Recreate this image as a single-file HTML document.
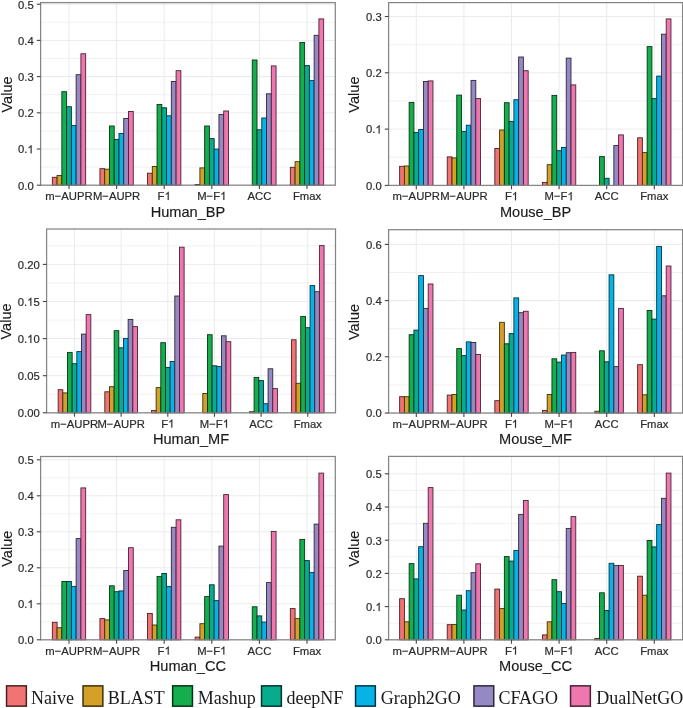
<!DOCTYPE html>
<html><head><meta charset="utf-8">
<style>
html,body{margin:0;padding:0;background:#fff;}
body{width:683px;height:708px;overflow:hidden;}
svg{display:block;}
svg{will-change:transform;}
.tk{font-family:"Liberation Sans", sans-serif;font-size:11.3px;fill:#2b2b2b;stroke:#2b2b2b;stroke-width:0.2px;}
.ttl{font-family:"Liberation Sans", sans-serif;font-size:14.6px;fill:#1a1a1a;stroke:#1a1a1a;stroke-width:0.15px;}
.leg{font-family:"Liberation Serif", serif;font-size:18px;fill:#1a1a1a;}
</style></head>
<body>
<svg width="683" height="708" viewBox="0 0 683 708">
<rect x="0" y="0" width="683" height="708" fill="#fff"/>
<line x1="40.6" y1="167.1" x2="335.3" y2="167.1" stroke="#EEEEEE" stroke-width="0.85"/>
<line x1="40.6" y1="130.9" x2="335.3" y2="130.9" stroke="#EEEEEE" stroke-width="0.85"/>
<line x1="40.6" y1="94.7" x2="335.3" y2="94.7" stroke="#EEEEEE" stroke-width="0.85"/>
<line x1="40.6" y1="58.5" x2="335.3" y2="58.5" stroke="#EEEEEE" stroke-width="0.85"/>
<line x1="40.6" y1="22.3" x2="335.3" y2="22.3" stroke="#EEEEEE" stroke-width="0.85"/>
<line x1="40.6" y1="185.2" x2="335.3" y2="185.2" stroke="#EBEBEB" stroke-width="1"/>
<line x1="40.6" y1="149" x2="335.3" y2="149" stroke="#EBEBEB" stroke-width="1"/>
<line x1="40.6" y1="112.8" x2="335.3" y2="112.8" stroke="#EBEBEB" stroke-width="1"/>
<line x1="40.6" y1="76.6" x2="335.3" y2="76.6" stroke="#EBEBEB" stroke-width="1"/>
<line x1="40.6" y1="40.4" x2="335.3" y2="40.4" stroke="#EBEBEB" stroke-width="1"/>
<line x1="40.6" y1="4.2" x2="335.3" y2="4.2" stroke="#EBEBEB" stroke-width="1"/>
<line x1="69" y1="2.6" x2="69" y2="185.2" stroke="#EBEBEB" stroke-width="1"/>
<line x1="116.6" y1="2.6" x2="116.6" y2="185.2" stroke="#EBEBEB" stroke-width="1"/>
<line x1="164.2" y1="2.6" x2="164.2" y2="185.2" stroke="#EBEBEB" stroke-width="1"/>
<line x1="211.8" y1="2.6" x2="211.8" y2="185.2" stroke="#EBEBEB" stroke-width="1"/>
<line x1="259.4" y1="2.6" x2="259.4" y2="185.2" stroke="#EBEBEB" stroke-width="1"/>
<line x1="307" y1="2.6" x2="307" y2="185.2" stroke="#EBEBEB" stroke-width="1"/>
<rect x="52.34" y="177.3" width="4.76" height="7.9" fill="#F17373" stroke="#482222" stroke-width="0.9"/>
<rect x="57.1" y="175.4" width="4.76" height="9.8" fill="#D5A02A" stroke="#3F300C" stroke-width="0.9"/>
<rect x="61.86" y="91.7" width="4.76" height="93.5" fill="#16AE4D" stroke="#063417" stroke-width="0.9"/>
<rect x="66.62" y="106.7" width="4.76" height="78.5" fill="#09AB8E" stroke="#02332A" stroke-width="0.9"/>
<rect x="71.38" y="125.5" width="4.76" height="59.7" fill="#07B3E6" stroke="#023545" stroke-width="0.9"/>
<rect x="76.14" y="74.7" width="4.76" height="110.5" fill="#9688C2" stroke="#2D283A" stroke-width="0.9"/>
<rect x="80.9" y="53.8" width="4.76" height="131.4" fill="#EF77B0" stroke="#472334" stroke-width="0.9"/>
<rect x="99.94" y="168.7" width="4.76" height="16.5" fill="#F17373" stroke="#482222" stroke-width="0.9"/>
<rect x="104.7" y="169.2" width="4.76" height="16" fill="#D5A02A" stroke="#3F300C" stroke-width="0.9"/>
<rect x="109.46" y="126" width="4.76" height="59.2" fill="#16AE4D" stroke="#063417" stroke-width="0.9"/>
<rect x="114.22" y="139.4" width="4.76" height="45.8" fill="#09AB8E" stroke="#02332A" stroke-width="0.9"/>
<rect x="118.98" y="133.5" width="4.76" height="51.7" fill="#07B3E6" stroke="#023545" stroke-width="0.9"/>
<rect x="123.74" y="118.5" width="4.76" height="66.7" fill="#9688C2" stroke="#2D283A" stroke-width="0.9"/>
<rect x="128.5" y="111.5" width="4.76" height="73.7" fill="#EF77B0" stroke="#472334" stroke-width="0.9"/>
<rect x="147.54" y="173.2" width="4.76" height="12" fill="#F17373" stroke="#482222" stroke-width="0.9"/>
<rect x="152.3" y="166.5" width="4.76" height="18.7" fill="#D5A02A" stroke="#3F300C" stroke-width="0.9"/>
<rect x="157.06" y="104.5" width="4.76" height="80.7" fill="#16AE4D" stroke="#063417" stroke-width="0.9"/>
<rect x="161.82" y="107.8" width="4.76" height="77.4" fill="#09AB8E" stroke="#02332A" stroke-width="0.9"/>
<rect x="166.58" y="115.8" width="4.76" height="69.4" fill="#07B3E6" stroke="#023545" stroke-width="0.9"/>
<rect x="171.34" y="81.5" width="4.76" height="103.7" fill="#9688C2" stroke="#2D283A" stroke-width="0.9"/>
<rect x="176.1" y="70.7" width="4.76" height="114.5" fill="#EF77B0" stroke="#472334" stroke-width="0.9"/>
<rect x="195.14" y="184.5" width="4.76" height="0.7" fill="#F17373" stroke="#482222" stroke-width="0.9"/>
<rect x="199.9" y="167.9" width="4.76" height="17.3" fill="#D5A02A" stroke="#3F300C" stroke-width="0.9"/>
<rect x="204.66" y="126" width="4.76" height="59.2" fill="#16AE4D" stroke="#063417" stroke-width="0.9"/>
<rect x="209.42" y="138.6" width="4.76" height="46.6" fill="#09AB8E" stroke="#02332A" stroke-width="0.9"/>
<rect x="214.18" y="149.1" width="4.76" height="36.1" fill="#07B3E6" stroke="#023545" stroke-width="0.9"/>
<rect x="218.94" y="114.5" width="4.76" height="70.7" fill="#9688C2" stroke="#2D283A" stroke-width="0.9"/>
<rect x="223.7" y="111" width="4.76" height="74.2" fill="#EF77B0" stroke="#472334" stroke-width="0.9"/>
<rect x="252.26" y="60" width="4.76" height="125.2" fill="#16AE4D" stroke="#063417" stroke-width="0.9"/>
<rect x="257.02" y="129.8" width="4.76" height="55.4" fill="#09AB8E" stroke="#02332A" stroke-width="0.9"/>
<rect x="261.78" y="118" width="4.76" height="67.2" fill="#07B3E6" stroke="#023545" stroke-width="0.9"/>
<rect x="266.54" y="93.8" width="4.76" height="91.4" fill="#9688C2" stroke="#2D283A" stroke-width="0.9"/>
<rect x="271.3" y="65.9" width="4.76" height="119.3" fill="#EF77B0" stroke="#472334" stroke-width="0.9"/>
<rect x="290.34" y="167.3" width="4.76" height="17.9" fill="#F17373" stroke="#482222" stroke-width="0.9"/>
<rect x="295.1" y="161.7" width="4.76" height="23.5" fill="#D5A02A" stroke="#3F300C" stroke-width="0.9"/>
<rect x="299.86" y="42.5" width="4.76" height="142.7" fill="#16AE4D" stroke="#063417" stroke-width="0.9"/>
<rect x="304.62" y="65.6" width="4.76" height="119.6" fill="#09AB8E" stroke="#02332A" stroke-width="0.9"/>
<rect x="309.38" y="80.6" width="4.76" height="104.6" fill="#07B3E6" stroke="#023545" stroke-width="0.9"/>
<rect x="314.14" y="35.3" width="4.76" height="149.9" fill="#9688C2" stroke="#2D283A" stroke-width="0.9"/>
<rect x="318.9" y="18.9" width="4.76" height="166.3" fill="#EF77B0" stroke="#472334" stroke-width="0.9"/>
<rect x="40.6" y="2.6" width="294.7" height="182.6" fill="none" stroke="#858585" stroke-width="1.25"/>
<line x1="36.8" y1="185.2" x2="40.6" y2="185.2" stroke="#444" stroke-width="1.1"/>
<g transform="translate(33.7,189.5) scale(1,1.04)"><text x="-15.71" y="0" class="tk">0.0</text></g>
<line x1="36.8" y1="149" x2="40.6" y2="149" stroke="#444" stroke-width="1.1"/>
<g transform="translate(33.7,153.3) scale(1,1.04)"><text x="-15.71" y="0" class="tk">0.<tspan style="fill:none;stroke:none">1</tspan></text></g>
<path transform="translate(33.7,153.3) translate(-6.28,0) scale(0.00552,-0.00552)" d="M763 0H583V1147C540 1106 483 1065 413 1024C343 983 280 952 224 931V1105C325 1152 413 1210 488 1278C563 1346 616 1412 647 1476H763Z" fill="#2b2b2b" stroke="#2b2b2b" stroke-width="36.2"/>
<line x1="36.8" y1="112.8" x2="40.6" y2="112.8" stroke="#444" stroke-width="1.1"/>
<g transform="translate(33.7,117.1) scale(1,1.04)"><text x="-15.71" y="0" class="tk">0.2</text></g>
<line x1="36.8" y1="76.6" x2="40.6" y2="76.6" stroke="#444" stroke-width="1.1"/>
<g transform="translate(33.7,80.9) scale(1,1.04)"><text x="-15.71" y="0" class="tk">0.3</text></g>
<line x1="36.8" y1="40.4" x2="40.6" y2="40.4" stroke="#444" stroke-width="1.1"/>
<g transform="translate(33.7,44.7) scale(1,1.04)"><text x="-15.71" y="0" class="tk">0.4</text></g>
<line x1="36.8" y1="4.2" x2="40.6" y2="4.2" stroke="#444" stroke-width="1.1"/>
<g transform="translate(33.7,8.5) scale(1,1.04)"><text x="-15.71" y="0" class="tk">0.5</text></g>
<line x1="69" y1="185.2" x2="69" y2="189.1" stroke="#444" stroke-width="1.1"/>
<g transform="translate(69,200) scale(1,1.04)"><text x="-23.7" y="0" class="tk">m−AUPR</text></g>
<line x1="116.6" y1="185.2" x2="116.6" y2="189.1" stroke="#444" stroke-width="1.1"/>
<g transform="translate(116.6,200) scale(1,1.04)"><text x="-23.7" y="0" class="tk">M−AUPR</text></g>
<line x1="164.2" y1="185.2" x2="164.2" y2="189.1" stroke="#444" stroke-width="1.1"/>
<g transform="translate(164.2,200) scale(1,1.04)"><text x="-6.59" y="0" class="tk">F<tspan style="fill:none;stroke:none">1</tspan></text></g>
<path transform="translate(164.2,200) translate(0.31,0) scale(0.00552,-0.00552)" d="M763 0H583V1147C540 1106 483 1065 413 1024C343 983 280 952 224 931V1105C325 1152 413 1210 488 1278C563 1346 616 1412 647 1476H763Z" fill="#2b2b2b" stroke="#2b2b2b" stroke-width="36.2"/>
<line x1="211.8" y1="185.2" x2="211.8" y2="189.1" stroke="#444" stroke-width="1.1"/>
<g transform="translate(211.8,200) scale(1,1.04)"><text x="-14.6" y="0" class="tk">M−F<tspan style="fill:none;stroke:none">1</tspan></text></g>
<path transform="translate(211.8,200) translate(8.31,0) scale(0.00552,-0.00552)" d="M763 0H583V1147C540 1106 483 1065 413 1024C343 983 280 952 224 931V1105C325 1152 413 1210 488 1278C563 1346 616 1412 647 1476H763Z" fill="#2b2b2b" stroke="#2b2b2b" stroke-width="36.2"/>
<line x1="259.4" y1="185.2" x2="259.4" y2="189.1" stroke="#444" stroke-width="1.1"/>
<g transform="translate(259.4,200) scale(1,1.04)"><text x="-11.93" y="0" class="tk">ACC</text></g>
<line x1="307" y1="185.2" x2="307" y2="189.1" stroke="#444" stroke-width="1.1"/>
<g transform="translate(307,200) scale(1,1.04)"><text x="-14.12" y="0" class="tk">Fmax</text></g>
<g transform="translate(187.95,216.6) scale(1,1.04)"><text x="-37.33" y="0" class="ttl">Human_BP</text></g>
<g transform="translate(11.8,93.9) rotate(-90) scale(1,1.04)"><text x="-18.67" y="0" class="ttl">Value</text></g>
<line x1="388.6" y1="157.25" x2="682.6" y2="157.25" stroke="#EEEEEE" stroke-width="0.85"/>
<line x1="388.6" y1="100.95" x2="682.6" y2="100.95" stroke="#EEEEEE" stroke-width="0.85"/>
<line x1="388.6" y1="44.65" x2="682.6" y2="44.65" stroke="#EEEEEE" stroke-width="0.85"/>
<line x1="388.6" y1="185.4" x2="682.6" y2="185.4" stroke="#EBEBEB" stroke-width="1"/>
<line x1="388.6" y1="129.1" x2="682.6" y2="129.1" stroke="#EBEBEB" stroke-width="1"/>
<line x1="388.6" y1="72.8" x2="682.6" y2="72.8" stroke="#EBEBEB" stroke-width="1"/>
<line x1="388.6" y1="16.5" x2="682.6" y2="16.5" stroke="#EBEBEB" stroke-width="1"/>
<line x1="416.3" y1="2.6" x2="416.3" y2="185.4" stroke="#EBEBEB" stroke-width="1"/>
<line x1="463.9" y1="2.6" x2="463.9" y2="185.4" stroke="#EBEBEB" stroke-width="1"/>
<line x1="511.5" y1="2.6" x2="511.5" y2="185.4" stroke="#EBEBEB" stroke-width="1"/>
<line x1="559.1" y1="2.6" x2="559.1" y2="185.4" stroke="#EBEBEB" stroke-width="1"/>
<line x1="606.7" y1="2.6" x2="606.7" y2="185.4" stroke="#EBEBEB" stroke-width="1"/>
<line x1="654.3" y1="2.6" x2="654.3" y2="185.4" stroke="#EBEBEB" stroke-width="1"/>
<rect x="399.64" y="166.3" width="4.76" height="19.1" fill="#F17373" stroke="#482222" stroke-width="0.9"/>
<rect x="404.4" y="166" width="4.76" height="19.4" fill="#D5A02A" stroke="#3F300C" stroke-width="0.9"/>
<rect x="409.16" y="102.4" width="4.76" height="83" fill="#16AE4D" stroke="#063417" stroke-width="0.9"/>
<rect x="413.92" y="132.4" width="4.76" height="53" fill="#09AB8E" stroke="#02332A" stroke-width="0.9"/>
<rect x="418.68" y="129.5" width="4.76" height="55.9" fill="#07B3E6" stroke="#023545" stroke-width="0.9"/>
<rect x="423.44" y="81.5" width="4.76" height="103.9" fill="#9688C2" stroke="#2D283A" stroke-width="0.9"/>
<rect x="428.2" y="80.9" width="4.76" height="104.5" fill="#EF77B0" stroke="#472334" stroke-width="0.9"/>
<rect x="447.24" y="156.9" width="4.76" height="28.5" fill="#F17373" stroke="#482222" stroke-width="0.9"/>
<rect x="452" y="157.9" width="4.76" height="27.5" fill="#D5A02A" stroke="#3F300C" stroke-width="0.9"/>
<rect x="456.76" y="95.1" width="4.76" height="90.3" fill="#16AE4D" stroke="#063417" stroke-width="0.9"/>
<rect x="461.52" y="131.4" width="4.76" height="54" fill="#09AB8E" stroke="#02332A" stroke-width="0.9"/>
<rect x="466.28" y="125.2" width="4.76" height="60.2" fill="#07B3E6" stroke="#023545" stroke-width="0.9"/>
<rect x="471.04" y="80.4" width="4.76" height="105" fill="#9688C2" stroke="#2D283A" stroke-width="0.9"/>
<rect x="475.8" y="98.6" width="4.76" height="86.8" fill="#EF77B0" stroke="#472334" stroke-width="0.9"/>
<rect x="494.84" y="148.5" width="4.76" height="36.9" fill="#F17373" stroke="#482222" stroke-width="0.9"/>
<rect x="499.6" y="130" width="4.76" height="55.4" fill="#D5A02A" stroke="#3F300C" stroke-width="0.9"/>
<rect x="504.36" y="102.7" width="4.76" height="82.7" fill="#16AE4D" stroke="#063417" stroke-width="0.9"/>
<rect x="509.12" y="121.4" width="4.76" height="64" fill="#09AB8E" stroke="#02332A" stroke-width="0.9"/>
<rect x="513.88" y="99.7" width="4.76" height="85.7" fill="#07B3E6" stroke="#023545" stroke-width="0.9"/>
<rect x="518.64" y="57" width="4.76" height="128.4" fill="#9688C2" stroke="#2D283A" stroke-width="0.9"/>
<rect x="523.4" y="70.7" width="4.76" height="114.7" fill="#EF77B0" stroke="#472334" stroke-width="0.9"/>
<rect x="542.44" y="182.4" width="4.76" height="3" fill="#F17373" stroke="#482222" stroke-width="0.9"/>
<rect x="547.2" y="164.7" width="4.76" height="20.7" fill="#D5A02A" stroke="#3F300C" stroke-width="0.9"/>
<rect x="551.96" y="95.4" width="4.76" height="90" fill="#16AE4D" stroke="#063417" stroke-width="0.9"/>
<rect x="556.72" y="150.7" width="4.76" height="34.7" fill="#09AB8E" stroke="#02332A" stroke-width="0.9"/>
<rect x="561.48" y="147.5" width="4.76" height="37.9" fill="#07B3E6" stroke="#023545" stroke-width="0.9"/>
<rect x="566.24" y="58.1" width="4.76" height="127.3" fill="#9688C2" stroke="#2D283A" stroke-width="0.9"/>
<rect x="571" y="84.9" width="4.76" height="100.5" fill="#EF77B0" stroke="#472334" stroke-width="0.9"/>
<rect x="599.56" y="156.6" width="4.76" height="28.8" fill="#16AE4D" stroke="#063417" stroke-width="0.9"/>
<rect x="604.32" y="178.3" width="4.76" height="7.1" fill="#09AB8E" stroke="#02332A" stroke-width="0.9"/>
<rect x="613.84" y="145.6" width="4.76" height="39.8" fill="#9688C2" stroke="#2D283A" stroke-width="0.9"/>
<rect x="618.6" y="134.9" width="4.76" height="50.5" fill="#EF77B0" stroke="#472334" stroke-width="0.9"/>
<rect x="637.64" y="137.8" width="4.76" height="47.6" fill="#F17373" stroke="#482222" stroke-width="0.9"/>
<rect x="642.4" y="152.6" width="4.76" height="32.8" fill="#D5A02A" stroke="#3F300C" stroke-width="0.9"/>
<rect x="647.16" y="46.6" width="4.76" height="138.8" fill="#16AE4D" stroke="#063417" stroke-width="0.9"/>
<rect x="651.92" y="98.6" width="4.76" height="86.8" fill="#09AB8E" stroke="#02332A" stroke-width="0.9"/>
<rect x="656.68" y="76.1" width="4.76" height="109.3" fill="#07B3E6" stroke="#023545" stroke-width="0.9"/>
<rect x="661.44" y="34.2" width="4.76" height="151.2" fill="#9688C2" stroke="#2D283A" stroke-width="0.9"/>
<rect x="666.2" y="18.9" width="4.76" height="166.5" fill="#EF77B0" stroke="#472334" stroke-width="0.9"/>
<rect x="388.6" y="2.6" width="294" height="182.8" fill="none" stroke="#858585" stroke-width="1.25"/>
<line x1="384.8" y1="185.4" x2="388.6" y2="185.4" stroke="#444" stroke-width="1.1"/>
<g transform="translate(381.7,189.7) scale(1,1.04)"><text x="-15.71" y="0" class="tk">0.0</text></g>
<line x1="384.8" y1="129.1" x2="388.6" y2="129.1" stroke="#444" stroke-width="1.1"/>
<g transform="translate(381.7,133.4) scale(1,1.04)"><text x="-15.71" y="0" class="tk">0.<tspan style="fill:none;stroke:none">1</tspan></text></g>
<path transform="translate(381.7,133.4) translate(-6.28,0) scale(0.00552,-0.00552)" d="M763 0H583V1147C540 1106 483 1065 413 1024C343 983 280 952 224 931V1105C325 1152 413 1210 488 1278C563 1346 616 1412 647 1476H763Z" fill="#2b2b2b" stroke="#2b2b2b" stroke-width="36.2"/>
<line x1="384.8" y1="72.8" x2="388.6" y2="72.8" stroke="#444" stroke-width="1.1"/>
<g transform="translate(381.7,77.1) scale(1,1.04)"><text x="-15.71" y="0" class="tk">0.2</text></g>
<line x1="384.8" y1="16.5" x2="388.6" y2="16.5" stroke="#444" stroke-width="1.1"/>
<g transform="translate(381.7,20.8) scale(1,1.04)"><text x="-15.71" y="0" class="tk">0.3</text></g>
<line x1="416.3" y1="185.4" x2="416.3" y2="189.3" stroke="#444" stroke-width="1.1"/>
<g transform="translate(416.3,200.2) scale(1,1.04)"><text x="-23.7" y="0" class="tk">m−AUPR</text></g>
<line x1="463.9" y1="185.4" x2="463.9" y2="189.3" stroke="#444" stroke-width="1.1"/>
<g transform="translate(463.9,200.2) scale(1,1.04)"><text x="-23.7" y="0" class="tk">M−AUPR</text></g>
<line x1="511.5" y1="185.4" x2="511.5" y2="189.3" stroke="#444" stroke-width="1.1"/>
<g transform="translate(511.5,200.2) scale(1,1.04)"><text x="-6.59" y="0" class="tk">F<tspan style="fill:none;stroke:none">1</tspan></text></g>
<path transform="translate(511.5,200.2) translate(0.31,0) scale(0.00552,-0.00552)" d="M763 0H583V1147C540 1106 483 1065 413 1024C343 983 280 952 224 931V1105C325 1152 413 1210 488 1278C563 1346 616 1412 647 1476H763Z" fill="#2b2b2b" stroke="#2b2b2b" stroke-width="36.2"/>
<line x1="559.1" y1="185.4" x2="559.1" y2="189.3" stroke="#444" stroke-width="1.1"/>
<g transform="translate(559.1,200.2) scale(1,1.04)"><text x="-14.6" y="0" class="tk">M−F<tspan style="fill:none;stroke:none">1</tspan></text></g>
<path transform="translate(559.1,200.2) translate(8.31,0) scale(0.00552,-0.00552)" d="M763 0H583V1147C540 1106 483 1065 413 1024C343 983 280 952 224 931V1105C325 1152 413 1210 488 1278C563 1346 616 1412 647 1476H763Z" fill="#2b2b2b" stroke="#2b2b2b" stroke-width="36.2"/>
<line x1="606.7" y1="185.4" x2="606.7" y2="189.3" stroke="#444" stroke-width="1.1"/>
<g transform="translate(606.7,200.2) scale(1,1.04)"><text x="-11.93" y="0" class="tk">ACC</text></g>
<line x1="654.3" y1="185.4" x2="654.3" y2="189.3" stroke="#444" stroke-width="1.1"/>
<g transform="translate(654.3,200.2) scale(1,1.04)"><text x="-14.12" y="0" class="tk">Fmax</text></g>
<g transform="translate(535.6,216.8) scale(1,1.04)"><text x="-35.71" y="0" class="ttl">Mouse_BP</text></g>
<g transform="translate(359.2,94) rotate(-90) scale(1,1.04)"><text x="-18.67" y="0" class="ttl">Value</text></g>
<line x1="46.6" y1="394.25" x2="335.5" y2="394.25" stroke="#EEEEEE" stroke-width="0.85"/>
<line x1="46.6" y1="357.15" x2="335.5" y2="357.15" stroke="#EEEEEE" stroke-width="0.85"/>
<line x1="46.6" y1="320.05" x2="335.5" y2="320.05" stroke="#EEEEEE" stroke-width="0.85"/>
<line x1="46.6" y1="282.95" x2="335.5" y2="282.95" stroke="#EEEEEE" stroke-width="0.85"/>
<line x1="46.6" y1="245.85" x2="335.5" y2="245.85" stroke="#EEEEEE" stroke-width="0.85"/>
<line x1="46.6" y1="412.8" x2="335.5" y2="412.8" stroke="#EBEBEB" stroke-width="1"/>
<line x1="46.6" y1="375.7" x2="335.5" y2="375.7" stroke="#EBEBEB" stroke-width="1"/>
<line x1="46.6" y1="338.6" x2="335.5" y2="338.6" stroke="#EBEBEB" stroke-width="1"/>
<line x1="46.6" y1="301.5" x2="335.5" y2="301.5" stroke="#EBEBEB" stroke-width="1"/>
<line x1="46.6" y1="264.4" x2="335.5" y2="264.4" stroke="#EBEBEB" stroke-width="1"/>
<line x1="74.5" y1="229" x2="74.5" y2="412.8" stroke="#EBEBEB" stroke-width="1"/>
<line x1="121.15" y1="229" x2="121.15" y2="412.8" stroke="#EBEBEB" stroke-width="1"/>
<line x1="167.8" y1="229" x2="167.8" y2="412.8" stroke="#EBEBEB" stroke-width="1"/>
<line x1="214.45" y1="229" x2="214.45" y2="412.8" stroke="#EBEBEB" stroke-width="1"/>
<line x1="261.1" y1="229" x2="261.1" y2="412.8" stroke="#EBEBEB" stroke-width="1"/>
<line x1="307.75" y1="229" x2="307.75" y2="412.8" stroke="#EBEBEB" stroke-width="1"/>
<rect x="58.17" y="389.7" width="4.66" height="23.1" fill="#F17373" stroke="#482222" stroke-width="0.9"/>
<rect x="62.84" y="392.9" width="4.66" height="19.9" fill="#D5A02A" stroke="#3F300C" stroke-width="0.9"/>
<rect x="67.5" y="352.4" width="4.66" height="60.4" fill="#16AE4D" stroke="#063417" stroke-width="0.9"/>
<rect x="72.17" y="363.7" width="4.66" height="49.1" fill="#09AB8E" stroke="#02332A" stroke-width="0.9"/>
<rect x="76.83" y="351.6" width="4.66" height="61.2" fill="#07B3E6" stroke="#023545" stroke-width="0.9"/>
<rect x="81.5" y="334.1" width="4.66" height="78.7" fill="#9688C2" stroke="#2D283A" stroke-width="0.9"/>
<rect x="86.16" y="314.6" width="4.66" height="98.2" fill="#EF77B0" stroke="#472334" stroke-width="0.9"/>
<rect x="104.82" y="391.8" width="4.66" height="21" fill="#F17373" stroke="#482222" stroke-width="0.9"/>
<rect x="109.49" y="386.7" width="4.66" height="26.1" fill="#D5A02A" stroke="#3F300C" stroke-width="0.9"/>
<rect x="114.15" y="330.7" width="4.66" height="82.1" fill="#16AE4D" stroke="#063417" stroke-width="0.9"/>
<rect x="118.82" y="347.8" width="4.66" height="65" fill="#09AB8E" stroke="#02332A" stroke-width="0.9"/>
<rect x="123.48" y="338.4" width="4.66" height="74.4" fill="#07B3E6" stroke="#023545" stroke-width="0.9"/>
<rect x="128.15" y="319.4" width="4.66" height="93.4" fill="#9688C2" stroke="#2D283A" stroke-width="0.9"/>
<rect x="132.81" y="326.6" width="4.66" height="86.2" fill="#EF77B0" stroke="#472334" stroke-width="0.9"/>
<rect x="151.47" y="410.6" width="4.66" height="2.2" fill="#F17373" stroke="#482222" stroke-width="0.9"/>
<rect x="156.14" y="387.6" width="4.66" height="25.2" fill="#D5A02A" stroke="#3F300C" stroke-width="0.9"/>
<rect x="160.8" y="342.7" width="4.66" height="70.1" fill="#16AE4D" stroke="#063417" stroke-width="0.9"/>
<rect x="165.47" y="367.4" width="4.66" height="45.4" fill="#09AB8E" stroke="#02332A" stroke-width="0.9"/>
<rect x="170.13" y="361.5" width="4.66" height="51.3" fill="#07B3E6" stroke="#023545" stroke-width="0.9"/>
<rect x="174.8" y="296" width="4.66" height="116.8" fill="#9688C2" stroke="#2D283A" stroke-width="0.9"/>
<rect x="179.46" y="247.2" width="4.66" height="165.6" fill="#EF77B0" stroke="#472334" stroke-width="0.9"/>
<rect x="202.79" y="393.5" width="4.66" height="19.3" fill="#D5A02A" stroke="#3F300C" stroke-width="0.9"/>
<rect x="207.45" y="334.7" width="4.66" height="78.1" fill="#16AE4D" stroke="#063417" stroke-width="0.9"/>
<rect x="212.12" y="365.8" width="4.66" height="47" fill="#09AB8E" stroke="#02332A" stroke-width="0.9"/>
<rect x="216.78" y="366.6" width="4.66" height="46.2" fill="#07B3E6" stroke="#023545" stroke-width="0.9"/>
<rect x="221.45" y="335.8" width="4.66" height="77" fill="#9688C2" stroke="#2D283A" stroke-width="0.9"/>
<rect x="226.11" y="341.7" width="4.66" height="71.1" fill="#EF77B0" stroke="#472334" stroke-width="0.9"/>
<rect x="249.44" y="411.7" width="4.66" height="1.1" fill="#D5A02A" stroke="#3F300C" stroke-width="0.9"/>
<rect x="254.1" y="377.4" width="4.66" height="35.4" fill="#16AE4D" stroke="#063417" stroke-width="0.9"/>
<rect x="258.77" y="380.6" width="4.66" height="32.2" fill="#09AB8E" stroke="#02332A" stroke-width="0.9"/>
<rect x="263.43" y="403.7" width="4.66" height="9.1" fill="#07B3E6" stroke="#023545" stroke-width="0.9"/>
<rect x="268.1" y="368.8" width="4.66" height="44" fill="#9688C2" stroke="#2D283A" stroke-width="0.9"/>
<rect x="272.76" y="388.6" width="4.66" height="24.2" fill="#EF77B0" stroke="#472334" stroke-width="0.9"/>
<rect x="291.42" y="339.8" width="4.66" height="73" fill="#F17373" stroke="#482222" stroke-width="0.9"/>
<rect x="296.09" y="383.3" width="4.66" height="29.5" fill="#D5A02A" stroke="#3F300C" stroke-width="0.9"/>
<rect x="300.75" y="316.4" width="4.66" height="96.4" fill="#16AE4D" stroke="#063417" stroke-width="0.9"/>
<rect x="305.42" y="327.7" width="4.66" height="85.1" fill="#09AB8E" stroke="#02332A" stroke-width="0.9"/>
<rect x="310.08" y="285.6" width="4.66" height="127.2" fill="#07B3E6" stroke="#023545" stroke-width="0.9"/>
<rect x="314.75" y="291.7" width="4.66" height="121.1" fill="#9688C2" stroke="#2D283A" stroke-width="0.9"/>
<rect x="319.41" y="245.6" width="4.66" height="167.2" fill="#EF77B0" stroke="#472334" stroke-width="0.9"/>
<rect x="46.6" y="229" width="288.9" height="183.8" fill="none" stroke="#858585" stroke-width="1.25"/>
<line x1="42.8" y1="412.8" x2="46.6" y2="412.8" stroke="#444" stroke-width="1.1"/>
<g transform="translate(39.7,417.1) scale(1,1.04)"><text x="-21.99" y="0" class="tk">0.00</text></g>
<line x1="42.8" y1="375.7" x2="46.6" y2="375.7" stroke="#444" stroke-width="1.1"/>
<g transform="translate(39.7,380) scale(1,1.04)"><text x="-21.99" y="0" class="tk">0.05</text></g>
<line x1="42.8" y1="338.6" x2="46.6" y2="338.6" stroke="#444" stroke-width="1.1"/>
<g transform="translate(39.7,342.9) scale(1,1.04)"><text x="-21.99" y="0" class="tk">0.<tspan style="fill:none;stroke:none">1</tspan>0</text></g>
<path transform="translate(39.7,342.9) translate(-12.57,0) scale(0.00552,-0.00552)" d="M763 0H583V1147C540 1106 483 1065 413 1024C343 983 280 952 224 931V1105C325 1152 413 1210 488 1278C563 1346 616 1412 647 1476H763Z" fill="#2b2b2b" stroke="#2b2b2b" stroke-width="36.2"/>
<line x1="42.8" y1="301.5" x2="46.6" y2="301.5" stroke="#444" stroke-width="1.1"/>
<g transform="translate(39.7,305.8) scale(1,1.04)"><text x="-21.99" y="0" class="tk">0.<tspan style="fill:none;stroke:none">1</tspan>5</text></g>
<path transform="translate(39.7,305.8) translate(-12.57,0) scale(0.00552,-0.00552)" d="M763 0H583V1147C540 1106 483 1065 413 1024C343 983 280 952 224 931V1105C325 1152 413 1210 488 1278C563 1346 616 1412 647 1476H763Z" fill="#2b2b2b" stroke="#2b2b2b" stroke-width="36.2"/>
<line x1="42.8" y1="264.4" x2="46.6" y2="264.4" stroke="#444" stroke-width="1.1"/>
<g transform="translate(39.7,268.7) scale(1,1.04)"><text x="-21.99" y="0" class="tk">0.20</text></g>
<line x1="74.5" y1="412.8" x2="74.5" y2="416.7" stroke="#444" stroke-width="1.1"/>
<g transform="translate(74.5,427.6) scale(1,1.04)"><text x="-23.7" y="0" class="tk">m−AUPR</text></g>
<line x1="121.15" y1="412.8" x2="121.15" y2="416.7" stroke="#444" stroke-width="1.1"/>
<g transform="translate(121.15,427.6) scale(1,1.04)"><text x="-23.7" y="0" class="tk">M−AUPR</text></g>
<line x1="167.8" y1="412.8" x2="167.8" y2="416.7" stroke="#444" stroke-width="1.1"/>
<g transform="translate(167.8,427.6) scale(1,1.04)"><text x="-6.59" y="0" class="tk">F<tspan style="fill:none;stroke:none">1</tspan></text></g>
<path transform="translate(167.8,427.6) translate(0.31,0) scale(0.00552,-0.00552)" d="M763 0H583V1147C540 1106 483 1065 413 1024C343 983 280 952 224 931V1105C325 1152 413 1210 488 1278C563 1346 616 1412 647 1476H763Z" fill="#2b2b2b" stroke="#2b2b2b" stroke-width="36.2"/>
<line x1="214.45" y1="412.8" x2="214.45" y2="416.7" stroke="#444" stroke-width="1.1"/>
<g transform="translate(214.45,427.6) scale(1,1.04)"><text x="-14.6" y="0" class="tk">M−F<tspan style="fill:none;stroke:none">1</tspan></text></g>
<path transform="translate(214.45,427.6) translate(8.31,0) scale(0.00552,-0.00552)" d="M763 0H583V1147C540 1106 483 1065 413 1024C343 983 280 952 224 931V1105C325 1152 413 1210 488 1278C563 1346 616 1412 647 1476H763Z" fill="#2b2b2b" stroke="#2b2b2b" stroke-width="36.2"/>
<line x1="261.1" y1="412.8" x2="261.1" y2="416.7" stroke="#444" stroke-width="1.1"/>
<g transform="translate(261.1,427.6) scale(1,1.04)"><text x="-11.93" y="0" class="tk">ACC</text></g>
<line x1="307.75" y1="412.8" x2="307.75" y2="416.7" stroke="#444" stroke-width="1.1"/>
<g transform="translate(307.75,427.6) scale(1,1.04)"><text x="-14.12" y="0" class="tk">Fmax</text></g>
<g transform="translate(191.05,444.2) scale(1,1.04)"><text x="-38.13" y="0" class="ttl">Human_MF</text></g>
<g transform="translate(10.5,320.9) rotate(-90) scale(1,1.04)"><text x="-18.67" y="0" class="ttl">Value</text></g>
<line x1="388.6" y1="384.9" x2="682.6" y2="384.9" stroke="#EEEEEE" stroke-width="0.85"/>
<line x1="388.6" y1="328.7" x2="682.6" y2="328.7" stroke="#EEEEEE" stroke-width="0.85"/>
<line x1="388.6" y1="272.5" x2="682.6" y2="272.5" stroke="#EEEEEE" stroke-width="0.85"/>
<line x1="388.6" y1="413" x2="682.6" y2="413" stroke="#EBEBEB" stroke-width="1"/>
<line x1="388.6" y1="356.8" x2="682.6" y2="356.8" stroke="#EBEBEB" stroke-width="1"/>
<line x1="388.6" y1="300.6" x2="682.6" y2="300.6" stroke="#EBEBEB" stroke-width="1"/>
<line x1="388.6" y1="244.4" x2="682.6" y2="244.4" stroke="#EBEBEB" stroke-width="1"/>
<line x1="416.3" y1="229.7" x2="416.3" y2="413" stroke="#EBEBEB" stroke-width="1"/>
<line x1="463.9" y1="229.7" x2="463.9" y2="413" stroke="#EBEBEB" stroke-width="1"/>
<line x1="511.5" y1="229.7" x2="511.5" y2="413" stroke="#EBEBEB" stroke-width="1"/>
<line x1="559.1" y1="229.7" x2="559.1" y2="413" stroke="#EBEBEB" stroke-width="1"/>
<line x1="606.7" y1="229.7" x2="606.7" y2="413" stroke="#EBEBEB" stroke-width="1"/>
<line x1="654.3" y1="229.7" x2="654.3" y2="413" stroke="#EBEBEB" stroke-width="1"/>
<rect x="399.64" y="396.7" width="4.76" height="16.3" fill="#F17373" stroke="#482222" stroke-width="0.9"/>
<rect x="404.4" y="396.7" width="4.76" height="16.3" fill="#D5A02A" stroke="#3F300C" stroke-width="0.9"/>
<rect x="409.16" y="334.7" width="4.76" height="78.3" fill="#16AE4D" stroke="#063417" stroke-width="0.9"/>
<rect x="413.92" y="330.1" width="4.76" height="82.9" fill="#09AB8E" stroke="#02332A" stroke-width="0.9"/>
<rect x="418.68" y="275.6" width="4.76" height="137.4" fill="#07B3E6" stroke="#023545" stroke-width="0.9"/>
<rect x="423.44" y="308.4" width="4.76" height="104.6" fill="#9688C2" stroke="#2D283A" stroke-width="0.9"/>
<rect x="428.2" y="284" width="4.76" height="129" fill="#EF77B0" stroke="#472334" stroke-width="0.9"/>
<rect x="447.24" y="395.1" width="4.76" height="17.9" fill="#F17373" stroke="#482222" stroke-width="0.9"/>
<rect x="452" y="394.5" width="4.76" height="18.5" fill="#D5A02A" stroke="#3F300C" stroke-width="0.9"/>
<rect x="456.76" y="348.6" width="4.76" height="64.4" fill="#16AE4D" stroke="#063417" stroke-width="0.9"/>
<rect x="461.52" y="355.6" width="4.76" height="57.4" fill="#09AB8E" stroke="#02332A" stroke-width="0.9"/>
<rect x="466.28" y="341.9" width="4.76" height="71.1" fill="#07B3E6" stroke="#023545" stroke-width="0.9"/>
<rect x="471.04" y="342.5" width="4.76" height="70.5" fill="#9688C2" stroke="#2D283A" stroke-width="0.9"/>
<rect x="475.8" y="354.5" width="4.76" height="58.5" fill="#EF77B0" stroke="#472334" stroke-width="0.9"/>
<rect x="494.84" y="400.7" width="4.76" height="12.3" fill="#F17373" stroke="#482222" stroke-width="0.9"/>
<rect x="499.6" y="322.3" width="4.76" height="90.7" fill="#D5A02A" stroke="#3F300C" stroke-width="0.9"/>
<rect x="504.36" y="343.8" width="4.76" height="69.2" fill="#16AE4D" stroke="#063417" stroke-width="0.9"/>
<rect x="509.12" y="333.6" width="4.76" height="79.4" fill="#09AB8E" stroke="#02332A" stroke-width="0.9"/>
<rect x="513.88" y="297.9" width="4.76" height="115.1" fill="#07B3E6" stroke="#023545" stroke-width="0.9"/>
<rect x="518.64" y="312.7" width="4.76" height="100.3" fill="#9688C2" stroke="#2D283A" stroke-width="0.9"/>
<rect x="523.4" y="311.3" width="4.76" height="101.7" fill="#EF77B0" stroke="#472334" stroke-width="0.9"/>
<rect x="542.44" y="410.4" width="4.76" height="2.6" fill="#F17373" stroke="#482222" stroke-width="0.9"/>
<rect x="547.2" y="394.5" width="4.76" height="18.5" fill="#D5A02A" stroke="#3F300C" stroke-width="0.9"/>
<rect x="551.96" y="358.8" width="4.76" height="54.2" fill="#16AE4D" stroke="#063417" stroke-width="0.9"/>
<rect x="556.72" y="362.1" width="4.76" height="50.9" fill="#09AB8E" stroke="#02332A" stroke-width="0.9"/>
<rect x="561.48" y="355.1" width="4.76" height="57.9" fill="#07B3E6" stroke="#023545" stroke-width="0.9"/>
<rect x="566.24" y="352.7" width="4.76" height="60.3" fill="#9688C2" stroke="#2D283A" stroke-width="0.9"/>
<rect x="571" y="352.4" width="4.76" height="60.6" fill="#EF77B0" stroke="#472334" stroke-width="0.9"/>
<rect x="594.8" y="411.2" width="4.76" height="1.8" fill="#D5A02A" stroke="#3F300C" stroke-width="0.9"/>
<rect x="599.56" y="350.8" width="4.76" height="62.2" fill="#16AE4D" stroke="#063417" stroke-width="0.9"/>
<rect x="604.32" y="361.8" width="4.76" height="51.2" fill="#09AB8E" stroke="#02332A" stroke-width="0.9"/>
<rect x="609.08" y="274.8" width="4.76" height="138.2" fill="#07B3E6" stroke="#023545" stroke-width="0.9"/>
<rect x="613.84" y="366.6" width="4.76" height="46.4" fill="#9688C2" stroke="#2D283A" stroke-width="0.9"/>
<rect x="618.6" y="308.4" width="4.76" height="104.6" fill="#EF77B0" stroke="#472334" stroke-width="0.9"/>
<rect x="637.64" y="364.7" width="4.76" height="48.3" fill="#F17373" stroke="#482222" stroke-width="0.9"/>
<rect x="642.4" y="394.8" width="4.76" height="18.2" fill="#D5A02A" stroke="#3F300C" stroke-width="0.9"/>
<rect x="647.16" y="310.5" width="4.76" height="102.5" fill="#16AE4D" stroke="#063417" stroke-width="0.9"/>
<rect x="651.92" y="319.1" width="4.76" height="93.9" fill="#09AB8E" stroke="#02332A" stroke-width="0.9"/>
<rect x="656.68" y="246.4" width="4.76" height="166.6" fill="#07B3E6" stroke="#023545" stroke-width="0.9"/>
<rect x="661.44" y="295.8" width="4.76" height="117.2" fill="#9688C2" stroke="#2D283A" stroke-width="0.9"/>
<rect x="666.2" y="266" width="4.76" height="147" fill="#EF77B0" stroke="#472334" stroke-width="0.9"/>
<rect x="388.6" y="229.7" width="294" height="183.3" fill="none" stroke="#858585" stroke-width="1.25"/>
<line x1="384.8" y1="413" x2="388.6" y2="413" stroke="#444" stroke-width="1.1"/>
<g transform="translate(381.7,417.3) scale(1,1.04)"><text x="-15.71" y="0" class="tk">0.0</text></g>
<line x1="384.8" y1="356.8" x2="388.6" y2="356.8" stroke="#444" stroke-width="1.1"/>
<g transform="translate(381.7,361.1) scale(1,1.04)"><text x="-15.71" y="0" class="tk">0.2</text></g>
<line x1="384.8" y1="300.6" x2="388.6" y2="300.6" stroke="#444" stroke-width="1.1"/>
<g transform="translate(381.7,304.9) scale(1,1.04)"><text x="-15.71" y="0" class="tk">0.4</text></g>
<line x1="384.8" y1="244.4" x2="388.6" y2="244.4" stroke="#444" stroke-width="1.1"/>
<g transform="translate(381.7,248.7) scale(1,1.04)"><text x="-15.71" y="0" class="tk">0.6</text></g>
<line x1="416.3" y1="413" x2="416.3" y2="416.9" stroke="#444" stroke-width="1.1"/>
<g transform="translate(416.3,427.8) scale(1,1.04)"><text x="-23.7" y="0" class="tk">m−AUPR</text></g>
<line x1="463.9" y1="413" x2="463.9" y2="416.9" stroke="#444" stroke-width="1.1"/>
<g transform="translate(463.9,427.8) scale(1,1.04)"><text x="-23.7" y="0" class="tk">M−AUPR</text></g>
<line x1="511.5" y1="413" x2="511.5" y2="416.9" stroke="#444" stroke-width="1.1"/>
<g transform="translate(511.5,427.8) scale(1,1.04)"><text x="-6.59" y="0" class="tk">F<tspan style="fill:none;stroke:none">1</tspan></text></g>
<path transform="translate(511.5,427.8) translate(0.31,0) scale(0.00552,-0.00552)" d="M763 0H583V1147C540 1106 483 1065 413 1024C343 983 280 952 224 931V1105C325 1152 413 1210 488 1278C563 1346 616 1412 647 1476H763Z" fill="#2b2b2b" stroke="#2b2b2b" stroke-width="36.2"/>
<line x1="559.1" y1="413" x2="559.1" y2="416.9" stroke="#444" stroke-width="1.1"/>
<g transform="translate(559.1,427.8) scale(1,1.04)"><text x="-14.6" y="0" class="tk">M−F<tspan style="fill:none;stroke:none">1</tspan></text></g>
<path transform="translate(559.1,427.8) translate(8.31,0) scale(0.00552,-0.00552)" d="M763 0H583V1147C540 1106 483 1065 413 1024C343 983 280 952 224 931V1105C325 1152 413 1210 488 1278C563 1346 616 1412 647 1476H763Z" fill="#2b2b2b" stroke="#2b2b2b" stroke-width="36.2"/>
<line x1="606.7" y1="413" x2="606.7" y2="416.9" stroke="#444" stroke-width="1.1"/>
<g transform="translate(606.7,427.8) scale(1,1.04)"><text x="-11.93" y="0" class="tk">ACC</text></g>
<line x1="654.3" y1="413" x2="654.3" y2="416.9" stroke="#444" stroke-width="1.1"/>
<g transform="translate(654.3,427.8) scale(1,1.04)"><text x="-14.12" y="0" class="tk">Fmax</text></g>
<g transform="translate(535.6,444.4) scale(1,1.04)"><text x="-36.51" y="0" class="ttl">Mouse_MF</text></g>
<g transform="translate(359.2,321.35) rotate(-90) scale(1,1.04)"><text x="-18.67" y="0" class="ttl">Value</text></g>
<line x1="40.6" y1="621.8" x2="335.3" y2="621.8" stroke="#EEEEEE" stroke-width="0.85"/>
<line x1="40.6" y1="585.8" x2="335.3" y2="585.8" stroke="#EEEEEE" stroke-width="0.85"/>
<line x1="40.6" y1="549.8" x2="335.3" y2="549.8" stroke="#EEEEEE" stroke-width="0.85"/>
<line x1="40.6" y1="513.8" x2="335.3" y2="513.8" stroke="#EEEEEE" stroke-width="0.85"/>
<line x1="40.6" y1="477.8" x2="335.3" y2="477.8" stroke="#EEEEEE" stroke-width="0.85"/>
<line x1="40.6" y1="639.8" x2="335.3" y2="639.8" stroke="#EBEBEB" stroke-width="1"/>
<line x1="40.6" y1="603.8" x2="335.3" y2="603.8" stroke="#EBEBEB" stroke-width="1"/>
<line x1="40.6" y1="567.8" x2="335.3" y2="567.8" stroke="#EBEBEB" stroke-width="1"/>
<line x1="40.6" y1="531.8" x2="335.3" y2="531.8" stroke="#EBEBEB" stroke-width="1"/>
<line x1="40.6" y1="495.8" x2="335.3" y2="495.8" stroke="#EBEBEB" stroke-width="1"/>
<line x1="40.6" y1="459.8" x2="335.3" y2="459.8" stroke="#EBEBEB" stroke-width="1"/>
<line x1="69" y1="456.5" x2="69" y2="639.8" stroke="#EBEBEB" stroke-width="1"/>
<line x1="116.6" y1="456.5" x2="116.6" y2="639.8" stroke="#EBEBEB" stroke-width="1"/>
<line x1="164.2" y1="456.5" x2="164.2" y2="639.8" stroke="#EBEBEB" stroke-width="1"/>
<line x1="211.8" y1="456.5" x2="211.8" y2="639.8" stroke="#EBEBEB" stroke-width="1"/>
<line x1="259.4" y1="456.5" x2="259.4" y2="639.8" stroke="#EBEBEB" stroke-width="1"/>
<line x1="307" y1="456.5" x2="307" y2="639.8" stroke="#EBEBEB" stroke-width="1"/>
<rect x="52.34" y="622.3" width="4.76" height="17.5" fill="#F17373" stroke="#482222" stroke-width="0.9"/>
<rect x="57.1" y="627.7" width="4.76" height="12.1" fill="#D5A02A" stroke="#3F300C" stroke-width="0.9"/>
<rect x="61.86" y="581.5" width="4.76" height="58.3" fill="#16AE4D" stroke="#063417" stroke-width="0.9"/>
<rect x="66.62" y="581.5" width="4.76" height="58.3" fill="#09AB8E" stroke="#02332A" stroke-width="0.9"/>
<rect x="71.38" y="586.6" width="4.76" height="53.2" fill="#07B3E6" stroke="#023545" stroke-width="0.9"/>
<rect x="76.14" y="538.6" width="4.76" height="101.2" fill="#9688C2" stroke="#2D283A" stroke-width="0.9"/>
<rect x="80.9" y="487.9" width="4.76" height="151.9" fill="#EF77B0" stroke="#472334" stroke-width="0.9"/>
<rect x="99.94" y="618.6" width="4.76" height="21.2" fill="#F17373" stroke="#482222" stroke-width="0.9"/>
<rect x="104.7" y="619.9" width="4.76" height="19.9" fill="#D5A02A" stroke="#3F300C" stroke-width="0.9"/>
<rect x="109.46" y="585.8" width="4.76" height="54" fill="#16AE4D" stroke="#063417" stroke-width="0.9"/>
<rect x="114.22" y="591.7" width="4.76" height="48.1" fill="#09AB8E" stroke="#02332A" stroke-width="0.9"/>
<rect x="118.98" y="590.9" width="4.76" height="48.9" fill="#07B3E6" stroke="#023545" stroke-width="0.9"/>
<rect x="123.74" y="570.5" width="4.76" height="69.3" fill="#9688C2" stroke="#2D283A" stroke-width="0.9"/>
<rect x="128.5" y="547.7" width="4.76" height="92.1" fill="#EF77B0" stroke="#472334" stroke-width="0.9"/>
<rect x="147.54" y="613.5" width="4.76" height="26.3" fill="#F17373" stroke="#482222" stroke-width="0.9"/>
<rect x="152.3" y="625" width="4.76" height="14.8" fill="#D5A02A" stroke="#3F300C" stroke-width="0.9"/>
<rect x="157.06" y="576.4" width="4.76" height="63.4" fill="#16AE4D" stroke="#063417" stroke-width="0.9"/>
<rect x="161.82" y="573.5" width="4.76" height="66.3" fill="#09AB8E" stroke="#02332A" stroke-width="0.9"/>
<rect x="166.58" y="586.6" width="4.76" height="53.2" fill="#07B3E6" stroke="#023545" stroke-width="0.9"/>
<rect x="171.34" y="527.3" width="4.76" height="112.5" fill="#9688C2" stroke="#2D283A" stroke-width="0.9"/>
<rect x="176.1" y="519.8" width="4.76" height="120" fill="#EF77B0" stroke="#472334" stroke-width="0.9"/>
<rect x="195.14" y="637.1" width="4.76" height="2.7" fill="#F17373" stroke="#482222" stroke-width="0.9"/>
<rect x="199.9" y="623.7" width="4.76" height="16.1" fill="#D5A02A" stroke="#3F300C" stroke-width="0.9"/>
<rect x="204.66" y="596.6" width="4.76" height="43.2" fill="#16AE4D" stroke="#063417" stroke-width="0.9"/>
<rect x="209.42" y="584.8" width="4.76" height="55" fill="#09AB8E" stroke="#02332A" stroke-width="0.9"/>
<rect x="214.18" y="600.6" width="4.76" height="39.2" fill="#07B3E6" stroke="#023545" stroke-width="0.9"/>
<rect x="218.94" y="546.1" width="4.76" height="93.7" fill="#9688C2" stroke="#2D283A" stroke-width="0.9"/>
<rect x="223.7" y="494.6" width="4.76" height="145.2" fill="#EF77B0" stroke="#472334" stroke-width="0.9"/>
<rect x="252.26" y="606.8" width="4.76" height="33" fill="#16AE4D" stroke="#063417" stroke-width="0.9"/>
<rect x="257.02" y="615.9" width="4.76" height="23.9" fill="#09AB8E" stroke="#02332A" stroke-width="0.9"/>
<rect x="261.78" y="622.1" width="4.76" height="17.7" fill="#07B3E6" stroke="#023545" stroke-width="0.9"/>
<rect x="266.54" y="582.6" width="4.76" height="57.2" fill="#9688C2" stroke="#2D283A" stroke-width="0.9"/>
<rect x="271.3" y="531.4" width="4.76" height="108.4" fill="#EF77B0" stroke="#472334" stroke-width="0.9"/>
<rect x="290.34" y="608.6" width="4.76" height="31.2" fill="#F17373" stroke="#482222" stroke-width="0.9"/>
<rect x="295.1" y="618.6" width="4.76" height="21.2" fill="#D5A02A" stroke="#3F300C" stroke-width="0.9"/>
<rect x="299.86" y="539.4" width="4.76" height="100.4" fill="#16AE4D" stroke="#063417" stroke-width="0.9"/>
<rect x="304.62" y="560.6" width="4.76" height="79.2" fill="#09AB8E" stroke="#02332A" stroke-width="0.9"/>
<rect x="309.38" y="572.4" width="4.76" height="67.4" fill="#07B3E6" stroke="#023545" stroke-width="0.9"/>
<rect x="314.14" y="524.1" width="4.76" height="115.7" fill="#9688C2" stroke="#2D283A" stroke-width="0.9"/>
<rect x="318.9" y="473.1" width="4.76" height="166.7" fill="#EF77B0" stroke="#472334" stroke-width="0.9"/>
<rect x="40.6" y="456.5" width="294.7" height="183.3" fill="none" stroke="#858585" stroke-width="1.25"/>
<line x1="36.8" y1="639.8" x2="40.6" y2="639.8" stroke="#444" stroke-width="1.1"/>
<g transform="translate(33.7,644.1) scale(1,1.04)"><text x="-15.71" y="0" class="tk">0.0</text></g>
<line x1="36.8" y1="603.8" x2="40.6" y2="603.8" stroke="#444" stroke-width="1.1"/>
<g transform="translate(33.7,608.1) scale(1,1.04)"><text x="-15.71" y="0" class="tk">0.<tspan style="fill:none;stroke:none">1</tspan></text></g>
<path transform="translate(33.7,608.1) translate(-6.28,0) scale(0.00552,-0.00552)" d="M763 0H583V1147C540 1106 483 1065 413 1024C343 983 280 952 224 931V1105C325 1152 413 1210 488 1278C563 1346 616 1412 647 1476H763Z" fill="#2b2b2b" stroke="#2b2b2b" stroke-width="36.2"/>
<line x1="36.8" y1="567.8" x2="40.6" y2="567.8" stroke="#444" stroke-width="1.1"/>
<g transform="translate(33.7,572.1) scale(1,1.04)"><text x="-15.71" y="0" class="tk">0.2</text></g>
<line x1="36.8" y1="531.8" x2="40.6" y2="531.8" stroke="#444" stroke-width="1.1"/>
<g transform="translate(33.7,536.1) scale(1,1.04)"><text x="-15.71" y="0" class="tk">0.3</text></g>
<line x1="36.8" y1="495.8" x2="40.6" y2="495.8" stroke="#444" stroke-width="1.1"/>
<g transform="translate(33.7,500.1) scale(1,1.04)"><text x="-15.71" y="0" class="tk">0.4</text></g>
<line x1="36.8" y1="459.8" x2="40.6" y2="459.8" stroke="#444" stroke-width="1.1"/>
<g transform="translate(33.7,464.1) scale(1,1.04)"><text x="-15.71" y="0" class="tk">0.5</text></g>
<line x1="69" y1="639.8" x2="69" y2="643.7" stroke="#444" stroke-width="1.1"/>
<g transform="translate(69,654.6) scale(1,1.04)"><text x="-23.7" y="0" class="tk">m−AUPR</text></g>
<line x1="116.6" y1="639.8" x2="116.6" y2="643.7" stroke="#444" stroke-width="1.1"/>
<g transform="translate(116.6,654.6) scale(1,1.04)"><text x="-23.7" y="0" class="tk">M−AUPR</text></g>
<line x1="164.2" y1="639.8" x2="164.2" y2="643.7" stroke="#444" stroke-width="1.1"/>
<g transform="translate(164.2,654.6) scale(1,1.04)"><text x="-6.59" y="0" class="tk">F<tspan style="fill:none;stroke:none">1</tspan></text></g>
<path transform="translate(164.2,654.6) translate(0.31,0) scale(0.00552,-0.00552)" d="M763 0H583V1147C540 1106 483 1065 413 1024C343 983 280 952 224 931V1105C325 1152 413 1210 488 1278C563 1346 616 1412 647 1476H763Z" fill="#2b2b2b" stroke="#2b2b2b" stroke-width="36.2"/>
<line x1="211.8" y1="639.8" x2="211.8" y2="643.7" stroke="#444" stroke-width="1.1"/>
<g transform="translate(211.8,654.6) scale(1,1.04)"><text x="-14.6" y="0" class="tk">M−F<tspan style="fill:none;stroke:none">1</tspan></text></g>
<path transform="translate(211.8,654.6) translate(8.31,0) scale(0.00552,-0.00552)" d="M763 0H583V1147C540 1106 483 1065 413 1024C343 983 280 952 224 931V1105C325 1152 413 1210 488 1278C563 1346 616 1412 647 1476H763Z" fill="#2b2b2b" stroke="#2b2b2b" stroke-width="36.2"/>
<line x1="259.4" y1="639.8" x2="259.4" y2="643.7" stroke="#444" stroke-width="1.1"/>
<g transform="translate(259.4,654.6) scale(1,1.04)"><text x="-11.93" y="0" class="tk">ACC</text></g>
<line x1="307" y1="639.8" x2="307" y2="643.7" stroke="#444" stroke-width="1.1"/>
<g transform="translate(307,654.6) scale(1,1.04)"><text x="-14.12" y="0" class="tk">Fmax</text></g>
<g transform="translate(187.95,671.2) scale(1,1.04)"><text x="-38.14" y="0" class="ttl">Human_CC</text></g>
<g transform="translate(11.8,548.15) rotate(-90) scale(1,1.04)"><text x="-18.67" y="0" class="ttl">Value</text></g>
<line x1="388.6" y1="623.2" x2="682.6" y2="623.2" stroke="#EEEEEE" stroke-width="0.85"/>
<line x1="388.6" y1="590" x2="682.6" y2="590" stroke="#EEEEEE" stroke-width="0.85"/>
<line x1="388.6" y1="556.8" x2="682.6" y2="556.8" stroke="#EEEEEE" stroke-width="0.85"/>
<line x1="388.6" y1="523.6" x2="682.6" y2="523.6" stroke="#EEEEEE" stroke-width="0.85"/>
<line x1="388.6" y1="490.4" x2="682.6" y2="490.4" stroke="#EEEEEE" stroke-width="0.85"/>
<line x1="388.6" y1="639.8" x2="682.6" y2="639.8" stroke="#EBEBEB" stroke-width="1"/>
<line x1="388.6" y1="606.6" x2="682.6" y2="606.6" stroke="#EBEBEB" stroke-width="1"/>
<line x1="388.6" y1="573.4" x2="682.6" y2="573.4" stroke="#EBEBEB" stroke-width="1"/>
<line x1="388.6" y1="540.2" x2="682.6" y2="540.2" stroke="#EBEBEB" stroke-width="1"/>
<line x1="388.6" y1="507" x2="682.6" y2="507" stroke="#EBEBEB" stroke-width="1"/>
<line x1="388.6" y1="473.8" x2="682.6" y2="473.8" stroke="#EBEBEB" stroke-width="1"/>
<line x1="416.3" y1="456.4" x2="416.3" y2="639.8" stroke="#EBEBEB" stroke-width="1"/>
<line x1="463.9" y1="456.4" x2="463.9" y2="639.8" stroke="#EBEBEB" stroke-width="1"/>
<line x1="511.5" y1="456.4" x2="511.5" y2="639.8" stroke="#EBEBEB" stroke-width="1"/>
<line x1="559.1" y1="456.4" x2="559.1" y2="639.8" stroke="#EBEBEB" stroke-width="1"/>
<line x1="606.7" y1="456.4" x2="606.7" y2="639.8" stroke="#EBEBEB" stroke-width="1"/>
<line x1="654.3" y1="456.4" x2="654.3" y2="639.8" stroke="#EBEBEB" stroke-width="1"/>
<rect x="399.64" y="598.7" width="4.76" height="41.1" fill="#F17373" stroke="#482222" stroke-width="0.9"/>
<rect x="404.4" y="621.8" width="4.76" height="18" fill="#D5A02A" stroke="#3F300C" stroke-width="0.9"/>
<rect x="409.16" y="563.6" width="4.76" height="76.2" fill="#16AE4D" stroke="#063417" stroke-width="0.9"/>
<rect x="413.92" y="578.9" width="4.76" height="60.9" fill="#09AB8E" stroke="#02332A" stroke-width="0.9"/>
<rect x="418.68" y="546.7" width="4.76" height="93.1" fill="#07B3E6" stroke="#023545" stroke-width="0.9"/>
<rect x="423.44" y="523.3" width="4.76" height="116.5" fill="#9688C2" stroke="#2D283A" stroke-width="0.9"/>
<rect x="428.2" y="487.6" width="4.76" height="152.2" fill="#EF77B0" stroke="#472334" stroke-width="0.9"/>
<rect x="447.24" y="624.7" width="4.76" height="15.1" fill="#F17373" stroke="#482222" stroke-width="0.9"/>
<rect x="452" y="624.5" width="4.76" height="15.3" fill="#D5A02A" stroke="#3F300C" stroke-width="0.9"/>
<rect x="456.76" y="595.2" width="4.76" height="44.6" fill="#16AE4D" stroke="#063417" stroke-width="0.9"/>
<rect x="461.52" y="610" width="4.76" height="29.8" fill="#09AB8E" stroke="#02332A" stroke-width="0.9"/>
<rect x="466.28" y="590.7" width="4.76" height="49.1" fill="#07B3E6" stroke="#023545" stroke-width="0.9"/>
<rect x="471.04" y="572.7" width="4.76" height="67.1" fill="#9688C2" stroke="#2D283A" stroke-width="0.9"/>
<rect x="475.8" y="563.8" width="4.76" height="76" fill="#EF77B0" stroke="#472334" stroke-width="0.9"/>
<rect x="494.84" y="589.1" width="4.76" height="50.7" fill="#F17373" stroke="#482222" stroke-width="0.9"/>
<rect x="499.6" y="608.6" width="4.76" height="31.2" fill="#D5A02A" stroke="#3F300C" stroke-width="0.9"/>
<rect x="504.36" y="556.6" width="4.76" height="83.2" fill="#16AE4D" stroke="#063417" stroke-width="0.9"/>
<rect x="509.12" y="561.1" width="4.76" height="78.7" fill="#09AB8E" stroke="#02332A" stroke-width="0.9"/>
<rect x="513.88" y="550.4" width="4.76" height="89.4" fill="#07B3E6" stroke="#023545" stroke-width="0.9"/>
<rect x="518.64" y="514.4" width="4.76" height="125.4" fill="#9688C2" stroke="#2D283A" stroke-width="0.9"/>
<rect x="523.4" y="500.5" width="4.76" height="139.3" fill="#EF77B0" stroke="#472334" stroke-width="0.9"/>
<rect x="542.44" y="634.9" width="4.76" height="4.9" fill="#F17373" stroke="#482222" stroke-width="0.9"/>
<rect x="547.2" y="621.8" width="4.76" height="18" fill="#D5A02A" stroke="#3F300C" stroke-width="0.9"/>
<rect x="551.96" y="579.7" width="4.76" height="60.1" fill="#16AE4D" stroke="#063417" stroke-width="0.9"/>
<rect x="556.72" y="591.7" width="4.76" height="48.1" fill="#09AB8E" stroke="#02332A" stroke-width="0.9"/>
<rect x="561.48" y="603.5" width="4.76" height="36.3" fill="#07B3E6" stroke="#023545" stroke-width="0.9"/>
<rect x="566.24" y="528.4" width="4.76" height="111.4" fill="#9688C2" stroke="#2D283A" stroke-width="0.9"/>
<rect x="571" y="516.6" width="4.76" height="123.2" fill="#EF77B0" stroke="#472334" stroke-width="0.9"/>
<rect x="594.8" y="638.4" width="4.76" height="1.4" fill="#D5A02A" stroke="#3F300C" stroke-width="0.9"/>
<rect x="599.56" y="592.8" width="4.76" height="47" fill="#16AE4D" stroke="#063417" stroke-width="0.9"/>
<rect x="604.32" y="610.5" width="4.76" height="29.3" fill="#09AB8E" stroke="#02332A" stroke-width="0.9"/>
<rect x="609.08" y="563.3" width="4.76" height="76.5" fill="#07B3E6" stroke="#023545" stroke-width="0.9"/>
<rect x="613.84" y="565.4" width="4.76" height="74.4" fill="#9688C2" stroke="#2D283A" stroke-width="0.9"/>
<rect x="618.6" y="565.4" width="4.76" height="74.4" fill="#EF77B0" stroke="#472334" stroke-width="0.9"/>
<rect x="637.64" y="576.2" width="4.76" height="63.6" fill="#F17373" stroke="#482222" stroke-width="0.9"/>
<rect x="642.4" y="595.2" width="4.76" height="44.6" fill="#D5A02A" stroke="#3F300C" stroke-width="0.9"/>
<rect x="647.16" y="540.5" width="4.76" height="99.3" fill="#16AE4D" stroke="#063417" stroke-width="0.9"/>
<rect x="651.92" y="546.9" width="4.76" height="92.9" fill="#09AB8E" stroke="#02332A" stroke-width="0.9"/>
<rect x="656.68" y="524.6" width="4.76" height="115.2" fill="#07B3E6" stroke="#023545" stroke-width="0.9"/>
<rect x="661.44" y="498.3" width="4.76" height="141.5" fill="#9688C2" stroke="#2D283A" stroke-width="0.9"/>
<rect x="666.2" y="473.1" width="4.76" height="166.7" fill="#EF77B0" stroke="#472334" stroke-width="0.9"/>
<rect x="388.6" y="456.4" width="294" height="183.4" fill="none" stroke="#858585" stroke-width="1.25"/>
<line x1="384.8" y1="639.8" x2="388.6" y2="639.8" stroke="#444" stroke-width="1.1"/>
<g transform="translate(381.7,644.1) scale(1,1.04)"><text x="-15.71" y="0" class="tk">0.0</text></g>
<line x1="384.8" y1="606.6" x2="388.6" y2="606.6" stroke="#444" stroke-width="1.1"/>
<g transform="translate(381.7,610.9) scale(1,1.04)"><text x="-15.71" y="0" class="tk">0.<tspan style="fill:none;stroke:none">1</tspan></text></g>
<path transform="translate(381.7,610.9) translate(-6.28,0) scale(0.00552,-0.00552)" d="M763 0H583V1147C540 1106 483 1065 413 1024C343 983 280 952 224 931V1105C325 1152 413 1210 488 1278C563 1346 616 1412 647 1476H763Z" fill="#2b2b2b" stroke="#2b2b2b" stroke-width="36.2"/>
<line x1="384.8" y1="573.4" x2="388.6" y2="573.4" stroke="#444" stroke-width="1.1"/>
<g transform="translate(381.7,577.7) scale(1,1.04)"><text x="-15.71" y="0" class="tk">0.2</text></g>
<line x1="384.8" y1="540.2" x2="388.6" y2="540.2" stroke="#444" stroke-width="1.1"/>
<g transform="translate(381.7,544.5) scale(1,1.04)"><text x="-15.71" y="0" class="tk">0.3</text></g>
<line x1="384.8" y1="507" x2="388.6" y2="507" stroke="#444" stroke-width="1.1"/>
<g transform="translate(381.7,511.3) scale(1,1.04)"><text x="-15.71" y="0" class="tk">0.4</text></g>
<line x1="384.8" y1="473.8" x2="388.6" y2="473.8" stroke="#444" stroke-width="1.1"/>
<g transform="translate(381.7,478.1) scale(1,1.04)"><text x="-15.71" y="0" class="tk">0.5</text></g>
<line x1="416.3" y1="639.8" x2="416.3" y2="643.7" stroke="#444" stroke-width="1.1"/>
<g transform="translate(416.3,654.6) scale(1,1.04)"><text x="-23.7" y="0" class="tk">m−AUPR</text></g>
<line x1="463.9" y1="639.8" x2="463.9" y2="643.7" stroke="#444" stroke-width="1.1"/>
<g transform="translate(463.9,654.6) scale(1,1.04)"><text x="-23.7" y="0" class="tk">M−AUPR</text></g>
<line x1="511.5" y1="639.8" x2="511.5" y2="643.7" stroke="#444" stroke-width="1.1"/>
<g transform="translate(511.5,654.6) scale(1,1.04)"><text x="-6.59" y="0" class="tk">F<tspan style="fill:none;stroke:none">1</tspan></text></g>
<path transform="translate(511.5,654.6) translate(0.31,0) scale(0.00552,-0.00552)" d="M763 0H583V1147C540 1106 483 1065 413 1024C343 983 280 952 224 931V1105C325 1152 413 1210 488 1278C563 1346 616 1412 647 1476H763Z" fill="#2b2b2b" stroke="#2b2b2b" stroke-width="36.2"/>
<line x1="559.1" y1="639.8" x2="559.1" y2="643.7" stroke="#444" stroke-width="1.1"/>
<g transform="translate(559.1,654.6) scale(1,1.04)"><text x="-14.6" y="0" class="tk">M−F<tspan style="fill:none;stroke:none">1</tspan></text></g>
<path transform="translate(559.1,654.6) translate(8.31,0) scale(0.00552,-0.00552)" d="M763 0H583V1147C540 1106 483 1065 413 1024C343 983 280 952 224 931V1105C325 1152 413 1210 488 1278C563 1346 616 1412 647 1476H763Z" fill="#2b2b2b" stroke="#2b2b2b" stroke-width="36.2"/>
<line x1="606.7" y1="639.8" x2="606.7" y2="643.7" stroke="#444" stroke-width="1.1"/>
<g transform="translate(606.7,654.6) scale(1,1.04)"><text x="-11.93" y="0" class="tk">ACC</text></g>
<line x1="654.3" y1="639.8" x2="654.3" y2="643.7" stroke="#444" stroke-width="1.1"/>
<g transform="translate(654.3,654.6) scale(1,1.04)"><text x="-14.12" y="0" class="tk">Fmax</text></g>
<g transform="translate(535.6,671.2) scale(1,1.04)"><text x="-36.51" y="0" class="ttl">Mouse_CC</text></g>
<g transform="translate(359.2,548.1) rotate(-90) scale(1,1.04)"><text x="-18.67" y="0" class="ttl">Value</text></g>
<rect x="6.55" y="685.85" width="19.8" height="20.3" fill="#F17373" stroke="#482222" stroke-width="1.5"/>
<text x="31" y="703.9" class="leg">Naive</text>
<rect x="83.05" y="685.85" width="19.8" height="20.3" fill="#D5A02A" stroke="#3F300C" stroke-width="1.5"/>
<text x="107.8" y="703.9" class="leg">BLAST</text>
<rect x="172.65" y="685.85" width="19.8" height="20.3" fill="#16AE4D" stroke="#063417" stroke-width="1.5"/>
<text x="197.8" y="703.9" class="leg">Mashup</text>
<rect x="261.55" y="685.85" width="19.8" height="20.3" fill="#09AB8E" stroke="#02332A" stroke-width="1.5"/>
<text x="286.4" y="703.9" class="leg">deepNF</text>
<rect x="355.55" y="685.85" width="19.8" height="20.3" fill="#07B3E6" stroke="#023545" stroke-width="1.5"/>
<text x="380.7" y="703.9" class="leg">Graph2GO</text>
<rect x="473.95" y="685.85" width="19.8" height="20.3" fill="#9688C2" stroke="#2D283A" stroke-width="1.5"/>
<text x="498.4" y="703.9" class="leg">CFAGO</text>
<rect x="570.55" y="685.85" width="19.8" height="20.3" fill="#EF77B0" stroke="#472334" stroke-width="1.5"/>
<text x="596.2" y="703.9" class="leg">DualNetGO</text>
</svg>
</body></html>
